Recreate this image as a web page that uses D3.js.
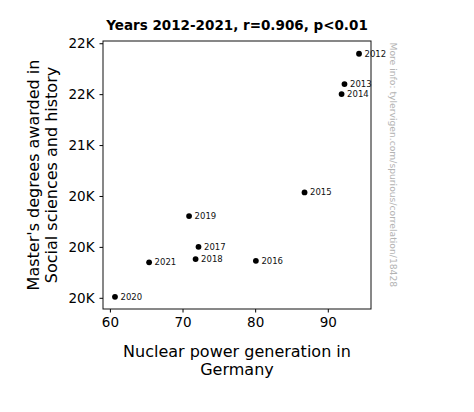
<!DOCTYPE html>
<html>
<head>
<meta charset="utf-8">
<script src="https://cdn.jsdelivr.net/npm/d3@7"></script>
<style>
  html, body { margin: 0; padding: 0; background: #fff; }
  svg { display: block; font-family: "DejaVu Sans", sans-serif; }
</style>
</head>
<body>
<svg id="chart" width="474" height="412"></svg>
<script>
const years = [2012, 2013, 2014, 2015, 2016, 2017, 2018, 2019, 2020, 2021];
const nuclearTWh = [94.3, 92.3, 91.9, 86.8, 80.1, 72.2, 71.8, 70.9, 60.7, 65.4];
const mastersDegrees = [21897, 21599, 21501, 20535, 19863, 20001, 19880, 20303, 19510, 19848];
const xTickValues = [60, 70, 80, 90];
const yTickValues = [19500, 20000, 20500, 21000, 21500, 22000];
const yTickLabels = ["20K", "20K", "20K", "21K", "22K", "22K"];

(function () {
const svg = d3.select("#chart");
const pLeft = 103, pRight = 371, pTop = 41, pBottom = 309;

const x = d3.scaleLinear().domain([59.05, 95.95]).range([pLeft, pRight]);
const y = d3.scaleLinear().domain([19390, 22022]).range([pBottom, pTop]);

// Title
svg.append("text")
  .attr("x", (pLeft + pRight) / 2).attr("y", 29.5)
  .attr("text-anchor", "middle")
  .attr("font-size", "13.5px").attr("font-weight", "bold")
  .text("Years 2012-2021, r=0.906, p<0.01");

// Axes
const xAxis = d3.axisBottom(x).tickValues(xTickValues).tickSize(3.5).tickPadding(5).tickFormat(d3.format("d"));
const gx = svg.append("g").attr("transform", `translate(0,${pBottom})`).call(xAxis);
gx.select(".domain").remove();
gx.selectAll("text").attr("font-size", "13.5px").attr("font-family", "DejaVu Sans").attr("fill", "#000");
gx.selectAll("line").attr("stroke", "#000");

const yAxis = d3.axisLeft(y).tickValues(yTickValues).tickSize(3.5).tickPadding(5)
  .tickFormat((d, i) => yTickLabels[i]);
const gy = svg.append("g").attr("transform", `translate(${pLeft},0)`).call(yAxis);
gy.select(".domain").remove();
gy.selectAll("text").attr("font-size", "13.5px").attr("font-family", "DejaVu Sans").attr("fill", "#000");
gy.selectAll("line").attr("stroke", "#000");

// Frame
svg.append("rect")
  .attr("x", pLeft).attr("y", pTop)
  .attr("width", pRight - pLeft).attr("height", pBottom - pTop)
  .attr("fill", "none").attr("stroke", "#111").attr("stroke-width", 1);

// Points
const data = years.map((yr, i) => ({ yr, xv: nuclearTWh[i], yv: mastersDegrees[i] }));
svg.append("g").selectAll("circle").data(data).join("circle")
  .attr("cx", d => x(d.xv)).attr("cy", d => y(d.yv))
  .attr("r", 2.9).attr("fill", "#000");

svg.append("g").selectAll("text").data(data).join("text")
  .attr("x", d => x(d.xv) + 5.5).attr("y", d => y(d.yv))
  .attr("dy", "0.36em")
  .attr("font-size", "8.5px")
  .attr("fill", "#111")
  .text(d => d.yr);

// X label
const xl = svg.append("text")
  .attr("text-anchor", "middle").attr("font-size", "16px").attr("fill", "#000");
xl.append("tspan").attr("x", (pLeft + pRight) / 2).attr("y", 357).text("Nuclear power generation in");
xl.append("tspan").attr("x", (pLeft + pRight) / 2).attr("y", 375).text("Germany");

// Y label
const cy = (pTop + pBottom) / 2;
const yl = svg.append("g").attr("transform", `translate(0,${cy}) rotate(-90)`)
  .append("text").attr("text-anchor", "middle").attr("font-size", "16px").attr("fill", "#000");
yl.append("tspan").attr("x", 0).attr("y", 39).text("Master's degrees awarded in");
yl.append("tspan").attr("x", 0).attr("y", 57).text("Social sciences and history");

// Watermark
svg.append("text")
  .attr("transform", `translate(389.5,42.5) rotate(90)`)
  .attr("font-size", "9.2px").attr("fill", "#b3b3b3")
  .text("More info: tylervigen.com/spurious/correlation/18428");
})();
</script>
</body>
</html>
